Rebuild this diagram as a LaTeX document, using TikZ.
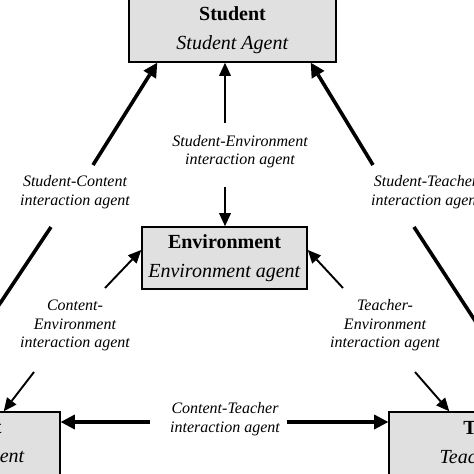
\documentclass[tikz,border=0pt]{standalone}
\usepackage{fontspec}
\setmainfont{Liberation Serif}
\usetikzlibrary{arrows.meta}
\definecolor{boxgray}{HTML}{E0E0E0}
\begin{document}
\begin{tikzpicture}[x=1pt,y=-1pt,
  box/.style={draw=black, line width=1.6pt, fill=boxgray, align=center, inner sep=0pt,
              font=\fontsize{20}{29}\selectfont},
  lab/.style={align=center, inner sep=0pt, font=\fontsize{16}{18.5}\selectfont\itshape},
  fat/.style={line width=3.6pt, -{Triangle[length=14pt,width=15pt,line width=0pt]}},
  slim/.style={line width=1.9pt, -{Triangle[length=13pt,width=12pt,line width=0pt]}}]
\useasboundingbox (0,0) rectangle (474,474);
\clip (0,0) rectangle (474,474);
\fill[white] (0,0) rectangle (474,474);
% boxes
\node[box, minimum width=207pt, minimum height=64pt] (stu) at (232.5,30)
  {\textbf{Student}\\\textit{Student Agent}};
\node[box, minimum width=165pt, minimum height=62pt] (env) at (224.5,258)
  {\textbf{Environment}\\\textit{Environment agent}};
\node[box, minimum width=186pt, minimum height=64pt] (con) at (-33,444)
  {\textbf{Content}\\\textit{Content Agent}};
\node[box, minimum width=217pt, minimum height=64pt] (tea) at (497.5,444)
  {\textbf{Teacher}\\\textit{Teacher Agent}};
% labels
\node[lab] (lse) at (240,151.5) {Student-Environment\\interaction agent};
\node[lab] (lsc) at (75,192) {Student-Content\\interaction agent};
\node[lab] (lst) at (426,192) {Student-Teacher\\interaction agent};
\node[lab] (lce) at (75,325.5) {Content-\\Environment\\interaction agent};
\node[lab] (lte) at (385,325.5) {Teacher-\\Environment\\interaction agent};
\node[lab] (lct) at (225,419) {Content-Teacher\\interaction agent};
% connector start points
\coordinate (sc1) at (93,165);  \coordinate (sc2) at (51,227);
\coordinate (se1) at (225,123); \coordinate (se2) at (225,187);
\coordinate (st1) at (373,165); \coordinate (st2) at (414,227);
\coordinate (ce1) at (105,288); \coordinate (ce2) at (34,372);
\coordinate (te1) at (343,288); \coordinate (te2) at (415,372);
\coordinate (ct1) at (150,422); \coordinate (ct2) at (287,422);
% connectors
\draw[fat]  (sc1) -- ([xshift=29pt]stu.south west);
\draw[fat]  (sc2) -- ([xshift=-39pt]con.north);
\draw[slim] (se1) -- ([xshift=-7.5pt]stu.south);
\draw[slim] (se2) -- ([xshift=0.5pt]env.north);
\draw[fat]  (st1) -- ([xshift=-26pt]stu.south east);
\draw[fat]  (st2) -- ([xshift=36.5pt]tea.north);
\draw[slim] (ce1) -- ([yshift=8pt]env.west);
\draw[slim] (ce2) -- ([xshift=-57pt]con.north east);
\draw[slim] (te1) -- ([yshift=8pt]env.east);
\draw[slim] (te2) -- ([xshift=61pt]tea.north west);
\draw[fat]  (ct1) -- ([yshift=22pt]con.east);
\draw[fat]  (ct2) -- ([yshift=22pt]tea.west);
\end{tikzpicture}
\end{document}
